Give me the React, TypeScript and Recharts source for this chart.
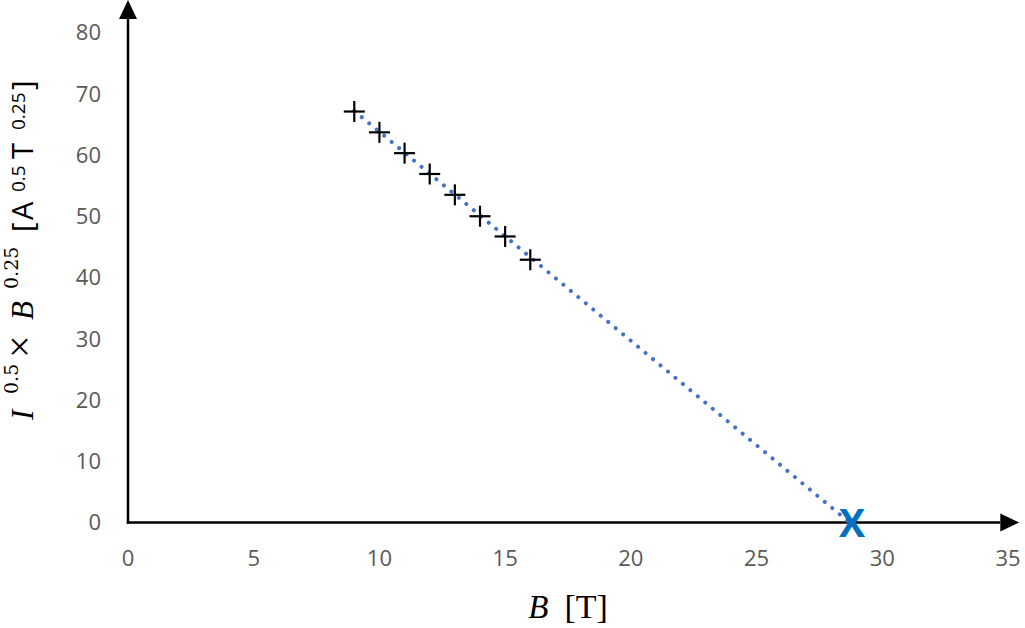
import { ComposedChart, XAxis, YAxis, Line, Scatter, ReferenceLine } from 'recharts'

// field B [T] and measured I^0.5 * B^0.25
const fieldB = [9, 10, 11, 12, 13, 14, 15, 16]
const kramerValue = [67.1, 63.7, 60.3, 56.9, 53.5, 50.0, 46.7, 42.9]

// dotted extrapolation down to the irreversibility field
const fitB = [9, 28.7]
const fitValue = [67.2, 0]

const interceptB = [28.8]
const interceptValue = [0]

const xTicks = [0, 5, 10, 15, 20, 25, 30, 35]
const yTicks = [0, 10, 20, 30, 40, 50, 60, 70, 80]

// arrow tips sit a bit outside the plotted range
const xArrowTip = 35.45
const yArrowTip = 85.3

const points = fieldB.map((b, i) => ({ x: b, y: kramerValue[i] }))
const fitLine = fitB.map((b, i) => ({ x: b, y: fitValue[i] }))
const intercept = interceptB.map((b, i) => ({ x: b, y: interceptValue[i] }))

const tickStyle = { fill: '#595959', fontSize: 22, fontFamily: 'Open Sans' }

const PlusMarker = (props: any) => {
    const { cx, cy } = props
    const r = 10.5
    return (
        <g stroke="#000" strokeWidth={2.2}>
            <line x1={cx - r} y1={cy} x2={cx + r} y2={cy} />
            <line x1={cx} y1={cy - r} x2={cx} y2={cy + r} />
        </g>
    )
}

const CrossMarker = (props: any) => {
    const { cx, cy } = props
    return (
        <text
            x={cx}
            y={cy}
            dy={14}
            textAnchor="middle"
            fontFamily="Open Sans"
            fontWeight="bold"
            fontSize={39}
            fill="#0070C0"
        >
            X
        </text>
    )
}

const ArrowAxis = (props: any) => {
    const { x1, y1, x2, y2 } = props
    const len = Math.hypot(x2 - x1, y2 - y1) || 1
    const ux = (x2 - x1) / len
    const uy = (y2 - y1) / len
    const head = 19
    const half = 9
    const bx = x2 - ux * head
    const by = y2 - uy * head
    return (
        <g>
            <line
                x1={x1 - ux * 1.2}
                y1={y1 - uy * 1.2}
                x2={bx}
                y2={by}
                stroke="#000"
                strokeWidth={2.5}
            />
            <polygon
                points={`${x2},${y2} ${bx - uy * half},${by + ux * half} ${bx + uy * half},${by - ux * half}`}
                fill="#000"
            />
        </g>
    )
}

// pieces of the rotated y title: text, offset along the text, raise, font
const yTitleParts = [
    { t: 'I', d: 0, up: 0, font: 'Liberation Serif', size: 31, italic: true },
    { t: '0.5', d: 26, up: 15, font: 'DejaVu Serif', size: 19 },
    { t: '×', d: 62, up: 0, font: 'Liberation Serif', size: 40 },
    { t: 'B', d: 100, up: 0, font: 'Liberation Serif', size: 31, italic: true },
    { t: '0.25', d: 131, up: 15, font: 'DejaVu Serif', size: 19 },
    { t: '[', d: 188, up: 0, font: 'Open Sans', size: 29 },
    { t: 'A', d: 200, up: 0, font: 'Open Sans', size: 29 },
    { t: '0.5', d: 228, up: 8, font: 'Open Sans', size: 19 },
    { t: 'T', d: 261, up: 0, font: 'Open Sans', size: 29 },
    { t: '0.25', d: 290, up: 8, font: 'Open Sans', size: 19 },
    { t: ']', d: 330, up: 0, font: 'Open Sans', size: 29 },
]

const YTitle = (props: any) => {
    const { viewBox } = props
    const ox = viewBox.x + 33
    const oy = viewBox.y + viewBox.height / 2 + 142.5
    return (
        <text transform={`rotate(-90, ${ox}, ${oy})`} fill="#000">
            {yTitleParts.map((p, i) => (
                <tspan
                    key={i}
                    x={ox + p.d}
                    y={oy - p.up}
                    fontFamily={p.font}
                    fontSize={p.size}
                    fontStyle={p.italic ? 'italic' : 'normal'}
                >
                    {p.t}
                </tspan>
            ))}
        </text>
    )
}

const XTitle = (props: any) => {
    const { viewBox } = props
    const x = viewBox.x + viewBox.width / 2
    const y = 618
    return (
        <text x={x} y={y} textAnchor="middle" fill="#000" fontFamily="Liberation Serif">
            <tspan fontStyle="italic" fontSize={33}>B</tspan>
            <tspan dx={16} fontSize={34}>[T]</tspan>
        </text>
    )
}

export default function App() {
    return (
        <div style={{ width: 1025, height: 628 }}>
            <style>{'body { margin: 0; }'}</style>
            <ComposedChart
                width={1025}
                height={628}
                margin={{ top: 32.5, right: 17, bottom: 45.5, left: 0 }}
            >
                <XAxis
                    type="number"
                    dataKey="x"
                    domain={[0, 35]}
                    ticks={xTicks}
                    axisLine={false}
                    tickLine={false}
                    tickSize={0}
                    tickMargin={28}
                    height={60}
                    tick={tickStyle}
                    label={{ content: <XTitle /> }}
                />
                <YAxis
                    type="number"
                    dataKey="y"
                    domain={[0, 80]}
                    ticks={yTicks}
                    axisLine={false}
                    tickLine={false}
                    tickSize={0}
                    tickMargin={27}
                    width={128}
                    tick={tickStyle}
                    label={{ content: <YTitle /> }}
                />
                <ReferenceLine
                    segment={[{ x: 0, y: 0 }, { x: xArrowTip, y: 0 }]}
                    ifOverflow="visible"
                    shape={ArrowAxis}
                />
                <ReferenceLine
                    segment={[{ x: 0, y: 0 }, { x: 0, y: yArrowTip }]}
                    ifOverflow="visible"
                    shape={ArrowAxis}
                />
                <Line
                    data={fitLine}
                    dataKey="y"
                    type="linear"
                    stroke="#4472C4"
                    strokeWidth={4}
                    strokeDasharray="0.01 9.7"
                    strokeLinecap="round"
                    dot={false}
                    activeDot={false}
                    isAnimationActive={false}
                />
                <Scatter data={points} dataKey="y" shape={PlusMarker} isAnimationActive={false} />
                <Scatter data={intercept} dataKey="y" shape={CrossMarker} isAnimationActive={false} />
            </ComposedChart>
        </div>
    )
}
